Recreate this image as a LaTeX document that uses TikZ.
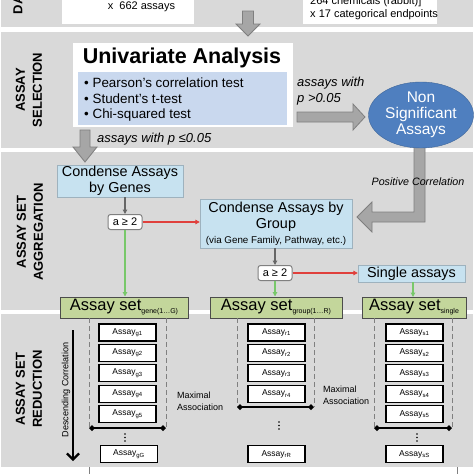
\documentclass[tikz,border=0pt]{standalone}
\usepackage{fontspec}
\setmainfont{Liberation Sans}
\usetikzlibrary{arrows.meta,positioning,shapes.geometric}
\definecolor{bandgray}{HTML}{D9D9D9}
\definecolor{blockgray}{HTML}{A6A6A6}
\definecolor{blockedge}{HTML}{7F7F7F}
\definecolor{unifill}{HTML}{C9D8EE}
\definecolor{condfill}{HTML}{C7E2F0}
\definecolor{condedge}{HTML}{9EB2BE}
\definecolor{nsblue}{HTML}{4F7FBF}
\definecolor{setolive}{HTML}{C3D69B}
\definecolor{arrred}{HTML}{E0403C}
\definecolor{arrgreen}{HTML}{78C86A}
\newcommand{\fsz}[2]{\fontsize{#1}{#2}\selectfont}

\begin{document}
\begin{tikzpicture}[x=1pt, y=-1pt,
    band/.style={fill=bandgray, draw=none},
    bandlabel/.style={rotate=90, align=center, font=\bfseries\fsz{13}{17}},
    blockarrow/.style={fill=blockgray, draw=blockedge, line width=0.8pt},
    databox/.style={fill=white, draw=none, inner sep=0pt},
    datatext/.style={font=\fsz{11}{13}, inner sep=0pt},
    cond/.style={draw=condedge, fill=condfill, align=center, inner sep=0pt, font=\fsz{14.4}{16}},
    gate/.style={draw=gray, fill=white, rounded corners=2.5pt, line width=1pt, minimum width=34pt, minimum height=15pt, inner sep=0pt, font=\fsz{11}{12}},
    setbox/.style={draw=black!70, fill=setolive, line width=1pt, minimum height=21pt, inner sep=0pt, font=\fsz{16.5}{18}},
    assaybox/.style={draw=black, fill=white, line width=1.2pt, minimum width=57pt, minimum height=17pt, inner sep=0pt, font=\fsz{8.5}{10}},
    flow/.style={-{Triangle[length=4.5pt,width=4.5pt]}, line width=1.3pt},
    maxline/.style={{Diamond[length=6pt,width=6pt]}-{Diamond[length=6pt,width=6pt]}, line width=1.6pt},
    guide/.style={draw=gray, dash pattern=on 5pt off 3pt, line width=0.9pt},
    note/.style={align=left, inner sep=0pt, font=\fsz{9}{12}}
]
\useasboundingbox (0,0) rectangle (474,474);
\clip (0,0) rectangle (474,474);

% bands
\fill[band] (1,-5) rectangle (473,27);
\fill[band] (1,32) rectangle (473,148);
\fill[band] (1,152) rectangle (473,310);
\fill[band] (1,314) rectangle (473,467);

\node[bandlabel] (ldata) at (18,-3) {DATA};
\node[bandlabel] (lsel) at (29,90) {ASSAY\\SELECTION};
\node[bandlabel] (lagg) at (30,232) {ASSAY SET\\AGGREGATION};
\node[bandlabel] (lred) at (29,389) {ASSAY SET\\REDUCTION};

% data
\node[databox, minimum width=132pt, minimum height=44pt] (dassays) at (128,2) {};
\node[databox, minimum width=134pt, minimum height=44pt] (dchem) at (370,2) {};
\node[datatext, anchor=base] (nassays) at (141.5,9.5) {x\ \ 662 assays};
\node[datatext, anchor=base west] (nchem) at (310,4.5) {264 chemicals (rabbit)]};
\node[datatext, anchor=base west] (nend) at (310,17.5) {x 17 categorical endpoints};

\filldraw[blockarrow] (242.5,11) -- (253.5,11) -- (253.5,24) -- (260,24) -- (248,36) -- (236,24) -- (242.5,24) -- cycle;

% selection
\node[fill=white, minimum width=220pt, minimum height=84pt, inner sep=0pt] (uni) at (183,85) {};
\node[font=\bfseries\fsz{21.5}{24}, inner sep=0pt] (unititle) at (182,58) {Univariate Analysis};
\node[fill=unifill, minimum width=209pt, minimum height=53pt, inner sep=0pt] (unitests) at (182.5,98.5) {};
\node[anchor=north west, align=left, inner sep=0pt, font=\fsz{13.4}{15.5}] (testlist) at (84,78)
    {\textbullet\ Pearson's correlation test\\\textbullet\ Student's t-test\\\textbullet\ Chi-squared test};

\filldraw[blockarrow] (297,112) -- (353,112) -- (353,104) -- (365,117) -- (353,130) -- (353,122) -- (297,122) -- cycle;
\node[anchor=north west, align=left, inner sep=0pt, font=\itshape\fsz{13}{15.5}] (pnot) at (297,77) {assays with\\p >0.05};

\filldraw[blockarrow] (80,130) -- (90,130) -- (90,147) -- (97,147) -- (85,162) -- (73,147) -- (80,147) -- cycle;
\node[anchor=west, inner sep=0pt, font=\itshape\fsz{13}{15}] (psig) at (97,139) {assays with p ≤0.05};

% positive correlation
\filldraw[blockarrow] (414,146) -- (425,146) -- (425,222) -- (372,222) -- (372,232) -- (357,217) -- (372,202) -- (372,212) -- (414,212) -- cycle;
\node[inner sep=0pt, font=\itshape\fsz{10.7}{12}] (poscorr) at (418,182) {Positive Correlation};

\node[ellipse, fill=nsblue, draw=nsblue!80!black, minimum width=105pt, minimum height=66pt, inner sep=0pt,
    text=white, align=center, font=\fsz{15.5}{16}] (nonsig) at (421,115) {Non\\Significant\\Assays};

% aggregation
\node[cond, minimum width=126pt, minimum height=32pt] (cgenes) at (120,181) {Condense Assays\\by Genes};
\node[gate] (agene) at (125,222) {a ≥ 2};
\node[cond, minimum width=152pt, minimum height=49pt] (cgroup) at (276,223.5)
    {Condense Assays by\\Group\\[-1pt]{\fsz{9.8}{11}(via Gene Family, Pathway, etc.)}};
\node[gate] (agroup) at (275,273) {a ≥ 2};
\node[cond, minimum width=107pt, minimum height=17pt] (single) at (411.5,273.5) {Single assays};

\node[setbox, minimum width=128pt] (asgene) at (124,307.5) {Assay set\raisebox{-3pt}{\fsz{7}{8}gene(1…G)}};
\node[setbox, minimum width=132pt] (asgroup) at (276,307.5) {Assay set\raisebox{-3pt}{\fsz{7}{8}group(1…R)}};
\node[setbox, minimum width=104pt] (assingle) at (414,307.5) {Assay set\raisebox{-3pt}{\fsz{7}{8}single}};

\draw[flow, gray!80!black] (cgenes.south -| agene) -- (agene);
\draw[flow, arrred] (agene) -- (agene -| cgroup.west);
\draw[flow, arrgreen] (agene) -- (agene |- asgene.north);
\draw[flow, gray!80!black] (cgroup.south -| agroup) -- (agroup);
\draw[flow, arrred] (agroup) -- (agroup -| single.west);
\draw[flow, arrgreen] (agroup) -- (agroup |- asgroup.north);
\draw[flow, arrgreen] (single.south -| 413,0) -- (413,297);

% reduction
\draw[guide] (89,318) -- (89,428);
\draw[guide] (166,318) -- (166,428);
\draw[guide] (237,318) -- (237,407);
\draw[guide] (314,318) -- (314,407);
\draw[guide] (374,318) -- (374,428);
\draw[guide] (452,318) -- (452,428);

\foreach \i in {1,...,5}
    \node[assaybox] (g\i) at (127.5,{332.5+20.4*(\i-1)}) {Assay\textsubscript{g\i}};
\foreach \i in {1,...,4}
    \node[assaybox] (r\i) at (276.5,{332.5+20.4*(\i-1)}) {Assay\textsubscript{r\i}};
\foreach \i in {1,...,5}
    \node[assaybox] (s\i) at (414.5,{332.5+20.4*(\i-1)}) {Assay\textsubscript{s\i}};
\node[assaybox] (gG) at (129,454) {Assay\textsubscript{gG}};
\node[assaybox] (rR) at (276.5,454) {Assay\textsubscript{rR}};
\node[assaybox] (sS) at (414.5,454) {Assay\textsubscript{sS}};

\draw[maxline] (89,428) -- (166,428);
\draw[maxline] (237,407) -- (314,407);
\draw[maxline] (374,428) -- (452,428);

% vertical dots
\foreach \d in {0,1,2} {
    \fill (125,{434+3.5*\d}) circle (0.8);
    \fill (279,{422+3.5*\d}) circle (0.8);
    \fill (417,{434+3.5*\d}) circle (0.8);
}

\node[note, anchor=west] (maxg) at (177,401) {Maximal\\Association};
\node[note, anchor=west] (maxr) at (323,395) {Maximal\\Association};

\coordinate (dtop) at (73,330);
\coordinate (dbot) at (73,461);
\draw[-{Straight Barb[length=6pt,width=12pt]}, line width=2.2pt] (dtop) -- (dbot);
\node[rotate=90, inner sep=0pt, font=\fsz{9.1}{10}] (desc) at (66,390) {Descending Correlation};

\draw[gray, line width=0.8pt] (89,467) -- (89,474);
\draw[gray, line width=0.8pt] (457,467) -- (457,474);
\end{tikzpicture}
\end{document}
